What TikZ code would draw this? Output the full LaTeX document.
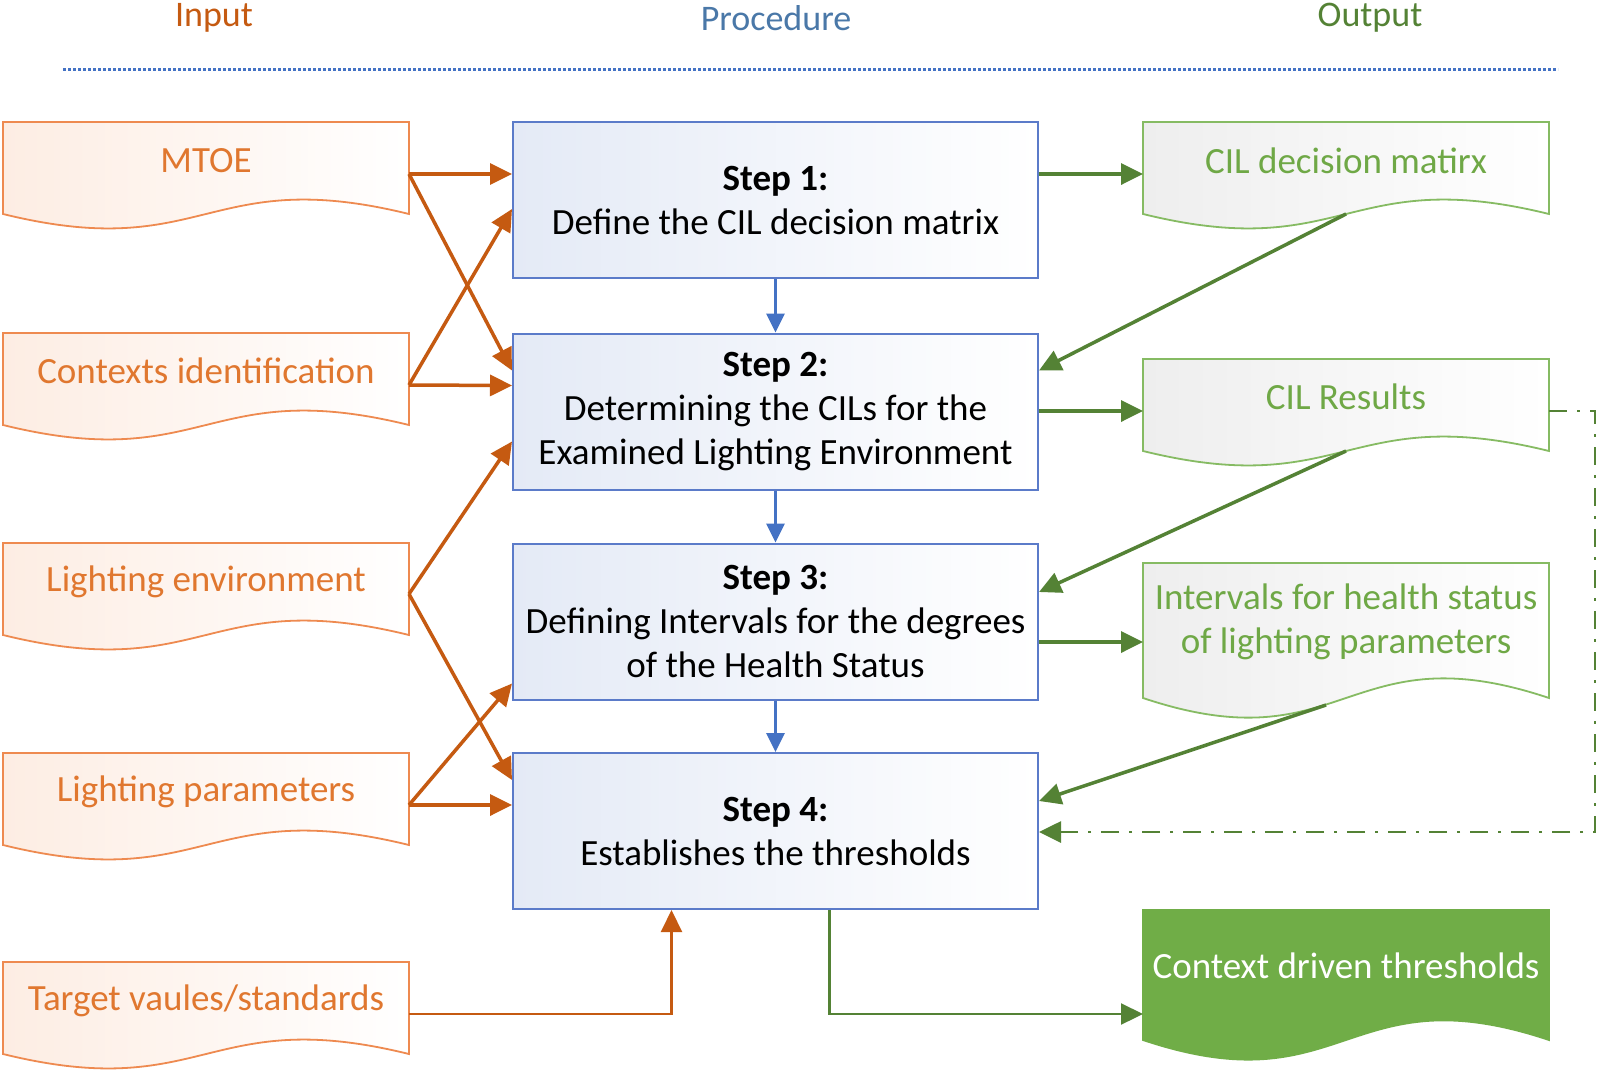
\documentclass[tikz,border=0pt]{standalone}
\usepackage{fontspec}
\setmainfont{Carlito}
\usetikzlibrary{arrows.meta,calc}
\definecolor{oline}{HTML}{C55A11}
\definecolor{oborder}{HTML}{EE8A50}
\definecolor{otext}{HTML}{E0772F}
\definecolor{ofill}{HTML}{FDEDE3}
\definecolor{bborder}{HTML}{5B7BC9}
\definecolor{bfill}{HTML}{E4EAF6}
\definecolor{barrow}{HTML}{4472C4}
\definecolor{gline}{HTML}{548235}
\definecolor{gborder}{HTML}{86BB63}
\definecolor{gtext}{HTML}{6FA846}
\definecolor{gfill}{HTML}{EEEEEE}
\definecolor{gsolid}{HTML}{70AD47}
\definecolor{hproc}{HTML}{4A78A8}
\newcommand\docshape[3]{\path[#3] (#1.north west) -- (#1.north east) -- (#1.south east) .. controls ($(#1.south)+(0,-#2)$) and ($(#1.south)+(0,#2)$) .. (#1.south west) -- cycle;}
\begin{document}
\begin{tikzpicture}[x=1pt,y=-1pt,
  txt/.style={font=\fontsize{37}{44}\selectfont, align=center, inner sep=0pt},
  stepbox/.style={txt, draw=bborder, line width=2pt, minimum width=525pt, minimum height=156pt, left color=bfill, right color=white, text=black},
  docbody/.style={minimum width=406pt, inner sep=0pt, outer sep=0pt},
  indoc/.style={draw=oborder, line width=1.8pt, left color=ofill, right color=white},
  outdoc/.style={draw=gborder, line width=1.8pt, left color=gfill, right color=white},
  intext/.style={txt, text=otext},
  outtext/.style={txt, text=gtext},
  hdr/.style={font=\fontsize{36}{40}\selectfont, inner sep=0pt},
  oarr/.style={draw=oline, line width=3.5pt, -{Triangle[length=22pt,width=21pt]}},
  garr/.style={draw=gline, line width=3.5pt, -{Triangle[length=22pt,width=21pt]}},
  barr/.style={draw=barrow, line width=2.8pt, -{Triangle[length=19pt,width=18pt]}},
  gdd/.style={draw=gline, line width=2.8pt, dash pattern=on 18pt off 10pt on 3pt off 10pt, -{Triangle[length=22pt,width=21pt]}}
]
\useasboundingbox (0,0) rectangle (1600,1071);
\fill[white] (0,0) rectangle (1600,1071);

% headers
\node[hdr, text=oline] (hin) at (214,18) {Input};
\node[hdr, text=hproc] (hproc) at (776,18) {Procedure};
\node[hdr, text=gline] (hout) at (1370,18) {Output};
\coordinate (dl) at (63,69);
\coordinate (dr) at (1558,69);
\draw[barrow, line width=3pt, dash pattern=on 2.5pt off 2.5pt] (dl) -- (dr);

% input documents
\node[docbody, minimum height=92pt] (in1) at (206,168) {};
\node[docbody, minimum height=92pt] (in2) at (206,379) {};
\node[docbody, minimum height=92pt] (in3) at (206,589) {};
\node[docbody, minimum height=92pt] (in4) at (206,799) {};
\node[docbody, minimum height=92pt] (in5) at (206,1008) {};
\docshape{in1}{50}{indoc}
\docshape{in2}{50}{indoc}
\docshape{in3}{50}{indoc}
\docshape{in4}{50}{indoc}
\docshape{in5}{50}{indoc}
\node[intext] (in1t) at (206,161) {MTOE};
\node[intext] (in2t) at (206,371) {Contexts identification};
\node[intext] (in3t) at (206,582) {Lighting environment};
\node[intext] (in4t) at (206,792) {Lighting parameters};
\node[intext] (in5t) at (206,1001) {Target vaules/standards};

% steps
\node[stepbox] (s1) at (775.5,200) {\textbf{Step 1:}\\Define the CIL decision matrix};
\node[stepbox] (s2) at (775.5,411.5) {\textbf{Step 2:}\\Determining the CILs for the\\Examined Lighting Environment};
\node[stepbox] (s3) at (775.5,621.5) {\textbf{Step 3:}\\Defining Intervals for the degrees\\of the Health Status};
\node[stepbox] (s4) at (775.5,831) {\textbf{Step 4:}\\Establishes the thresholds};

% output documents
\node[docbody, minimum height=92pt] (o1) at (1346,168) {};
\node[docbody, minimum height=92pt] (o2) at (1346,405) {};
\node[docbody, minimum height=135pt] (o3) at (1346,630.5) {};
\node[docbody, minimum height=130pt] (o4) at (1346,975) {};
\docshape{o1}{50}{outdoc}
\docshape{o2}{50}{outdoc}
\docshape{o3}{68}{outdoc}
\docshape{o4}{68}{draw=gsolid, line width=1.8pt, fill=gsolid}
\node[outtext] (o1t) at (1346,161) {CIL decision matirx};
\node[outtext] (o2t) at (1346,397) {CIL Results};
\node[outtext] (o3t) at (1346,622) {Intervals for health status\\of lighting parameters};
\node[txt, text=white] (o4t) at (1346,966) {Context driven thresholds};

% orange arrows
\draw[oarr] ($(in1.east)+(0,6)$) -- ($(s1.west)+(0,-26)$);
\draw[oarr] ($(in1.east)+(0,6)$) -- ($(s2.west)+(0,-41)$);
\draw[oarr] ($(in2.east)+(0,6)$) -- ($(s1.west)+(0,9)$);
\draw[oarr] ($(in2.east)+(0,6)$) -- ($(s2.west)+(0,-26)$);
\draw[oarr] ($(in3.east)+(0,5)$) -- ($(s2.west)+(0,30)$);
\draw[oarr] ($(in3.east)+(0,5)$) -- ($(s4.west)+(0,-51)$);
\draw[oarr] ($(in4.east)+(0,6)$) -- ($(s3.west)+(0,62)$);
\draw[oarr] ($(in4.east)+(0,6)$) -- ($(s4.west)+(0,-26)$);
\draw[oarr, line width=2.2pt] ($(in5.east)+(0,6)$) -| ($(s4.south)+(-104,0)$);

% blue arrows
\draw[barr] (s1.south) -- (s2.north);
\draw[barr] (s2.south) -- (s3.north);
\draw[barr] (s3.south) -- (s4.north);

% green arrows
\draw[garr] ($(s1.east)+(0,-26)$) -- ($(o1.west)+(0,6)$);
\draw[garr] (o1.south) -- ($(s2.east)+(0,-41)$);
\draw[garr] ($(s2.east)+(0,-0.5)$) -- ($(o2.west)+(0,6)$);
\draw[garr] (o2.south) -- ($(s3.east)+(0,-29.5)$);
\draw[garr] ($(s3.east)+(0,20.5)$) -- ($(o3.west)+(0,11.5)$);
\draw[garr] ($(o3.south)+(-20,7)$) -- ($(s4.east)+(0,-30)$);
\draw[gdd] ($(o2.east)+(0,6)$) -- ++(46,0) |- ($(s4.east)+(0,1)$);
\draw[garr, line width=2.2pt] ($(s4.south)+(54,0)$) |- ($(o4.west)+(0,39)$);
\end{tikzpicture}
\end{document}
